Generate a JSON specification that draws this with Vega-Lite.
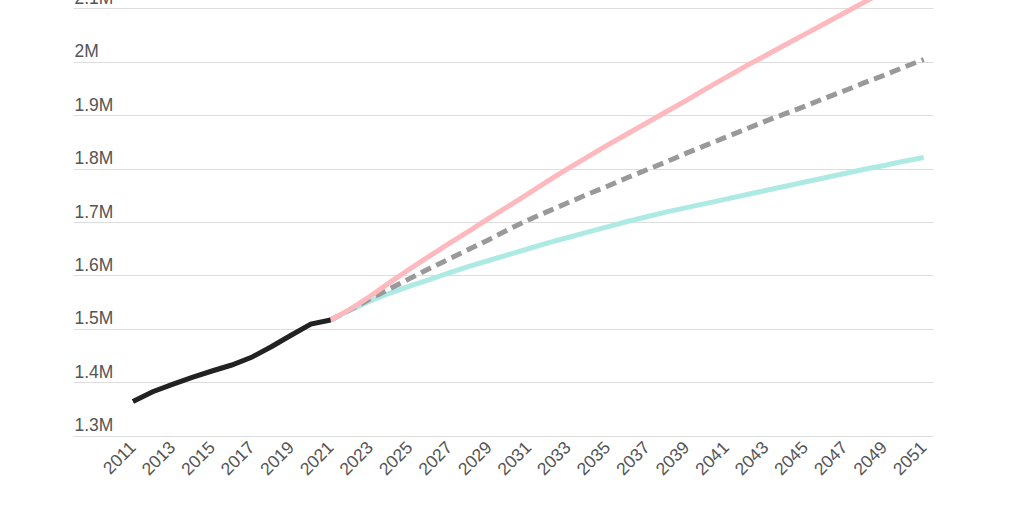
{
  "$schema": "https://vega.github.io/schema/vega-lite/v6.json",
  "autosize": "none",
  "width": 860,
  "height": 435.6,
  "padding": {"left": 73, "top": 0, "right": 91, "bottom": 77},
  "background": "white",
  "config": {
    "view": {"stroke": null},
    "font": "Liberation Sans",
    "axis": {"labelFont": "Liberation Sans", "labelColor": "#555555"}
  },
  "datasets": {
    "pop": [
      {"year": 2011, "value": 1363700, "series": "actual"},
      {"year": 2012, "value": 1382200, "series": "actual"},
      {"year": 2013, "value": 1396000, "series": "actual"},
      {"year": 2014, "value": 1409200, "series": "actual"},
      {"year": 2015, "value": 1421000, "series": "actual"},
      {"year": 2016, "value": 1432200, "series": "actual"},
      {"year": 2017, "value": 1446600, "series": "actual"},
      {"year": 2018, "value": 1466500, "series": "actual"},
      {"year": 2019, "value": 1488000, "series": "actual"},
      {"year": 2020, "value": 1509000, "series": "actual"},
      {"year": 2021, "value": 1516500, "series": "actual"},

      {"year": 2021, "value": 1516500, "series": "high"},
      {"year": 2022, "value": 1537000, "series": "high"},
      {"year": 2023, "value": 1561000, "series": "high"},
      {"year": 2024, "value": 1587000, "series": "high"},
      {"year": 2025, "value": 1612000, "series": "high"},
      {"year": 2026, "value": 1636000, "series": "high"},
      {"year": 2027, "value": 1660000, "series": "high"},
      {"year": 2028, "value": 1683000, "series": "high"},
      {"year": 2029, "value": 1707000, "series": "high"},
      {"year": 2030, "value": 1730000, "series": "high"},
      {"year": 2031, "value": 1753000, "series": "high"},
      {"year": 2032, "value": 1777000, "series": "high"},
      {"year": 2033, "value": 1800000, "series": "high"},
      {"year": 2034, "value": 1822000, "series": "high"},
      {"year": 2035, "value": 1844000, "series": "high"},
      {"year": 2036, "value": 1865000, "series": "high"},
      {"year": 2037, "value": 1886000, "series": "high"},
      {"year": 2038, "value": 1907000, "series": "high"},
      {"year": 2039, "value": 1928000, "series": "high"},
      {"year": 2040, "value": 1950000, "series": "high"},
      {"year": 2041, "value": 1971000, "series": "high"},
      {"year": 2042, "value": 1992000, "series": "high"},
      {"year": 2043, "value": 2012000, "series": "high"},
      {"year": 2044, "value": 2032000, "series": "high"},
      {"year": 2045, "value": 2052000, "series": "high"},
      {"year": 2046, "value": 2072000, "series": "high"},
      {"year": 2047, "value": 2092000, "series": "high"},
      {"year": 2048, "value": 2112000, "series": "high"},
      {"year": 2049, "value": 2132000, "series": "high"},
      {"year": 2050, "value": 2152000, "series": "high"},
      {"year": 2051, "value": 2172000, "series": "high"},

      {"year": 2021, "value": 1516500, "series": "principal"},
      {"year": 2022, "value": 1536000, "series": "principal"},
      {"year": 2023, "value": 1556000, "series": "principal"},
      {"year": 2024, "value": 1575000, "series": "principal"},
      {"year": 2025, "value": 1594000, "series": "principal"},
      {"year": 2026, "value": 1613000, "series": "principal"},
      {"year": 2027, "value": 1631000, "series": "principal"},
      {"year": 2028, "value": 1649000, "series": "principal"},
      {"year": 2029, "value": 1667000, "series": "principal"},
      {"year": 2030, "value": 1686000, "series": "principal"},
      {"year": 2031, "value": 1704000, "series": "principal"},
      {"year": 2032, "value": 1720000, "series": "principal"},
      {"year": 2033, "value": 1736000, "series": "principal"},
      {"year": 2034, "value": 1752000, "series": "principal"},
      {"year": 2035, "value": 1767000, "series": "principal"},
      {"year": 2036, "value": 1783000, "series": "principal"},
      {"year": 2037, "value": 1798000, "series": "principal"},
      {"year": 2038, "value": 1813000, "series": "principal"},
      {"year": 2039, "value": 1829000, "series": "principal"},
      {"year": 2040, "value": 1844000, "series": "principal"},
      {"year": 2041, "value": 1859000, "series": "principal"},
      {"year": 2042, "value": 1874000, "series": "principal"},
      {"year": 2043, "value": 1889000, "series": "principal"},
      {"year": 2044, "value": 1903000, "series": "principal"},
      {"year": 2045, "value": 1917000, "series": "principal"},
      {"year": 2046, "value": 1932000, "series": "principal"},
      {"year": 2047, "value": 1946000, "series": "principal"},
      {"year": 2048, "value": 1961000, "series": "principal"},
      {"year": 2049, "value": 1975000, "series": "principal"},
      {"year": 2050, "value": 1990000, "series": "principal"},
      {"year": 2051, "value": 2004500, "series": "principal"},

      {"year": 2021, "value": 1516500, "series": "low"},
      {"year": 2022, "value": 1535000, "series": "low"},
      {"year": 2023, "value": 1552000, "series": "low"},
      {"year": 2024, "value": 1567000, "series": "low"},
      {"year": 2025, "value": 1580000, "series": "low"},
      {"year": 2026, "value": 1592000, "series": "low"},
      {"year": 2027, "value": 1605000, "series": "low"},
      {"year": 2028, "value": 1617000, "series": "low"},
      {"year": 2029, "value": 1628000, "series": "low"},
      {"year": 2030, "value": 1639000, "series": "low"},
      {"year": 2031, "value": 1650000, "series": "low"},
      {"year": 2032, "value": 1661000, "series": "low"},
      {"year": 2033, "value": 1671000, "series": "low"},
      {"year": 2034, "value": 1681000, "series": "low"},
      {"year": 2035, "value": 1691000, "series": "low"},
      {"year": 2036, "value": 1701000, "series": "low"},
      {"year": 2037, "value": 1710000, "series": "low"},
      {"year": 2038, "value": 1719000, "series": "low"},
      {"year": 2039, "value": 1727000, "series": "low"},
      {"year": 2040, "value": 1735000, "series": "low"},
      {"year": 2041, "value": 1743000, "series": "low"},
      {"year": 2042, "value": 1751000, "series": "low"},
      {"year": 2043, "value": 1759000, "series": "low"},
      {"year": 2044, "value": 1767000, "series": "low"},
      {"year": 2045, "value": 1775000, "series": "low"},
      {"year": 2046, "value": 1783000, "series": "low"},
      {"year": 2047, "value": 1791000, "series": "low"},
      {"year": 2048, "value": 1799000, "series": "low"},
      {"year": 2049, "value": 1806000, "series": "low"},
      {"year": 2050, "value": 1814000, "series": "low"},
      {"year": 2051, "value": 1821000, "series": "low"}
    ]
  },
  "data": {"name": "pop"},
  "encoding": {
    "x": {
      "field": "year",
      "type": "quantitative",
      "scale": {"domain": [2007.97, 2051.47], "nice": false, "zero": false},
      "axis": {
        "title": null,
        "values": [2011, 2013, 2015, 2017, 2019, 2021, 2023, 2025, 2027, 2029, 2031, 2033, 2035, 2037, 2039, 2041, 2043, 2045, 2047, 2049, 2051],
        "format": "d",
        "grid": false,
        "domain": false,
        "ticks": false,
        "labelAngle": -45,
        "labelAlign": "right",
        "labelBaseline": "middle",
        "labelPadding": 9,
        "labelFontSize": 17.5,
        "labelFlush": false,
        "labelOverlap": false
      }
    },
    "y": {
      "field": "value",
      "type": "quantitative",
      "scale": {"domain": [1300000, 2115900], "nice": false, "zero": false},
      "axis": {
        "title": null,
        "values": [1300000, 1400000, 1500000, 1600000, 1700000, 1800000, 1900000, 2000000, 2100000],
        "labelExpr": "datum.value == 2000000 ? '2M' : format(datum.value / 1000000, '.1f') + 'M'",
        "grid": true,
        "gridColor": "#dddddd",
        "gridWidth": 1.2,
        "domain": false,
        "ticks": false,
        "labelAlign": "left",
        "labelBaseline": "alphabetic",
        "labelPadding": -1,
        "labelOffset": -5,
        "labelFontSize": 17.5,
        "labelFlush": false,
        "labelOverlap": false
      }
    }
  },
  "layer": [
    {
      "transform": [{"filter": "datum.series == 'low'"}],
      "mark": {"type": "line", "color": "#aeeae4", "strokeWidth": 5}
    },
    {
      "transform": [{"filter": "datum.series == 'principal'"}],
      "mark": {"type": "line", "color": "#999999", "strokeWidth": 5, "strokeDash": [11, 6]}
    },
    {
      "transform": [{"filter": "datum.series == 'high'"}],
      "mark": {"type": "line", "color": "#fdb9be", "strokeWidth": 5}
    },
    {
      "transform": [{"filter": "datum.series == 'actual'"}],
      "mark": {"type": "line", "color": "#222222", "strokeWidth": 5}
    }
  ]
}
